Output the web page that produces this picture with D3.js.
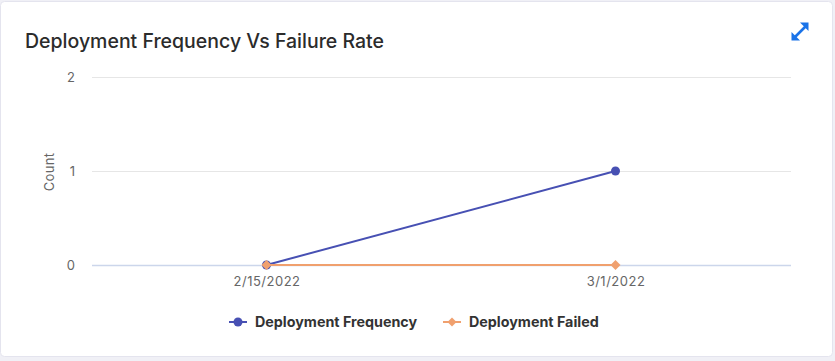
<!DOCTYPE html>
<html><head><meta charset="utf-8">
<script src="https://cdn.jsdelivr.net/npm/d3@7"></script>
<style>
html,body{margin:0;padding:0;background:#f0f0f6;}
svg{display:block;font-family:Inter, "Noto Sans", sans-serif;}
</style></head>
<body>
<svg id="c" width="835" height="361"></svg>
<script>
const categories = ["2/15/2022", "3/1/2022"];
const deploymentFrequency = [0, 1];
const deploymentFailed = [0, 0];
const yTicks = [0, 1, 2];
const seriesNames = ["Deployment Frequency", "Deployment Failed"];
const seriesColors = ["#4750b3", "#f0a06e"];

const svg = d3.select("#c");
// card
svg.append("rect").attr("x", 0.5).attr("y", 1.5).attr("width", 832).attr("height", 355)
  .attr("rx", 4).attr("fill", "#fff").attr("stroke", "#e4e4ee");

svg.append("text").attr("x", 25).attr("y", 48).text("Deployment Frequency Vs Failure Rate")
  .attr("font-size", 19.5).attr("font-weight", 500).attr("fill", "#2b2b2b");

// expand icon
const ic = svg.append("g").attr("fill", "#1a73e8").attr("stroke", "#1a73e8");
ic.append("line").attr("x1", 795).attr("y1", 37).attr("x2", 806).attr("y2", 26).attr("stroke-width", 2.6);
ic.append("path").attr("d", "M808.5,22.5 L808.5,31 L800,22.5 Z").attr("stroke", "none");
ic.append("path").attr("d", "M791.5,40.5 L791.5,32 L800,40.5 Z").attr("stroke", "none");

const x = d3.scalePoint().domain(categories).range([92, 790]).padding(0.5);
const y = d3.scaleLinear().domain([0, 2]).range([265, 77]);

// grid
svg.append("g").selectAll("line").data(yTicks).join("line")
  .attr("x1", 92).attr("x2", 791).attr("y1", d => y(d) + 0.5).attr("y2", d => y(d) + 0.5)
  .attr("stroke", d => d === 0 ? "#ccd6eb" : "#e6e6e6").attr("stroke-width", d => d === 0 ? 1.5 : 1);

// y axis labels
const ya = svg.append("g").attr("transform", "translate(75,0)")
  .call(d3.axisLeft(y).tickValues(yTicks).tickSize(0).tickPadding(0).tickFormat(d3.format("d")));
ya.select(".domain").remove();
ya.selectAll("text").attr("font-size", 13).attr("fill", "#666").attr("font-family", "Inter, sans-serif").attr("dy", "0.32em");

svg.append("text").attr("transform", "translate(54,172) rotate(-90)").attr("text-anchor", "middle")
  .text("Count").attr("font-size", 13).attr("fill", "#666").attr("letter-spacing", 0.3);

// x axis labels
const xa = svg.append("g").attr("transform", "translate(0,277)")
  .call(d3.axisBottom(x).tickSize(0).tickPadding(0));
xa.select(".domain").remove();
xa.selectAll("text").attr("font-size", 13).attr("fill", "#666").attr("font-family", "Inter, sans-serif")
  .attr("dy", "0.71em").attr("letter-spacing", 0.5);

const line = d3.line().x((d, i) => x(categories[i])).y(d => y(d));

// series 1
svg.append("path").datum(deploymentFrequency).attr("d", line).attr("fill", "none")
  .attr("stroke", seriesColors[0]).attr("stroke-width", 2);
svg.append("g").selectAll("circle").data(deploymentFrequency).join("circle")
  .attr("cx", (d, i) => x(categories[i])).attr("cy", d => y(d)).attr("r", 4.5).attr("fill", seriesColors[0]);

// series 2
svg.append("path").datum(deploymentFailed).attr("d", line).attr("fill", "none")
  .attr("stroke", seriesColors[1]).attr("stroke-width", 2);
svg.append("g").selectAll("path").data(deploymentFailed).join("path")
  .attr("transform", (d, i) => `translate(${x(categories[i])},${y(d)}) rotate(45)`)
  .attr("d", d3.symbol().type(d3.symbolSquare).size(50)).attr("fill", seriesColors[1]);

// legend
const legX = [229, 443];
const lg = svg.append("g").selectAll("g").data(seriesNames).join("g")
  .attr("transform", (d, i) => `translate(${legX[i]},322)`);
lg.append("line").attr("x1", 0).attr("x2", 18).attr("y1", 0).attr("y2", 0)
  .attr("stroke", (d, i) => seriesColors[i]).attr("stroke-width", 2);
lg.each(function(d, i) {
  const g = d3.select(this);
  if (i === 0) g.append("circle").attr("cx", 9).attr("cy", 0).attr("r", 4.5).attr("fill", seriesColors[0]);
  else g.append("path").attr("transform", "translate(9,0) rotate(45)").attr("d", d3.symbol().type(d3.symbolSquare).size(40)).attr("fill", seriesColors[1]);
});
lg.append("text").attr("x", 26).attr("y", 0).attr("dy", "0.35em").text(d => d)
  .attr("font-size", 14.3).attr("font-weight", 700).attr("fill", "#333");
</script>
</body></html>
